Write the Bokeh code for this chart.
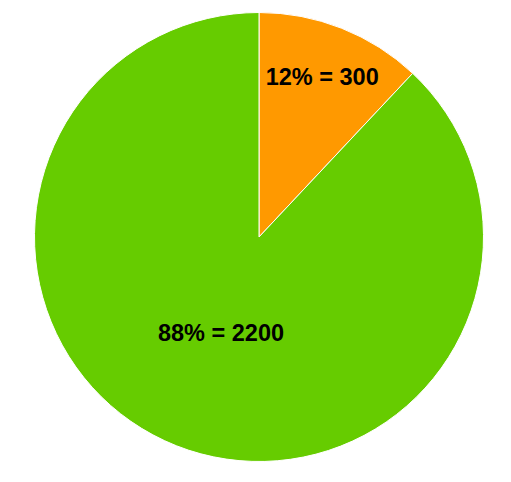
import numpy as np
from bokeh.plotting import figure
from bokeh.models import ColumnDataSource
from bokeh.core.properties import value
from bokeh.embed import file_html
from bokeh.resources import INLINE

# slice data
names = ["A", "B"]
amounts = [300, 2200]
colors = ["#FF9900", "#66CC00"]

# where each label sits, as a fraction of the radius
label_r = [0.765, 0.46]

R = 224.5

total = sum(amounts)
fracs = np.array(amounts) / total
ends = np.cumsum(fracs) * 2 * np.pi
starts = ends - fracs * 2 * np.pi
# clockwise from 12 o'clock
start_angle = np.pi / 2 - starts
end_angle = np.pi / 2 - ends
mid = (start_angle + end_angle) / 2

labels = [f"{round(f * 100)}% = {a}" for f, a in zip(fracs, amounts)]
lx = [r * R * np.cos(m) for r, m in zip(label_r, mid)]
ly = [r * R * np.sin(m) for r, m in zip(label_r, mid)]

src = ColumnDataSource(dict(start=start_angle, end=end_angle, color=colors,
                            lx=lx, ly=ly, label=labels))

p = figure(width=495, height=466, x_range=(-258.5, 236.5), y_range=(-229.5, 236.5),
           toolbar_location=None, output_backend="svg", min_border=0)
p.axis.visible = False
p.grid.visible = False
p.outline_line_color = None
p.background_fill_color = "white"

p.wedge(x=0, y=0, radius=R, start_angle="end", end_angle="start",
        fill_color="color", line_color="white", line_width=1, source=src)

p.text(x="lx", y="ly", text="label", source=src,
       text_font=value("Liberation Sans"), text_font_style="bold",
       text_font_size="23.5px", text_color="#000000",
       text_align="center", text_baseline="middle")

open("out.html", "w").write(file_html(p, INLINE))
